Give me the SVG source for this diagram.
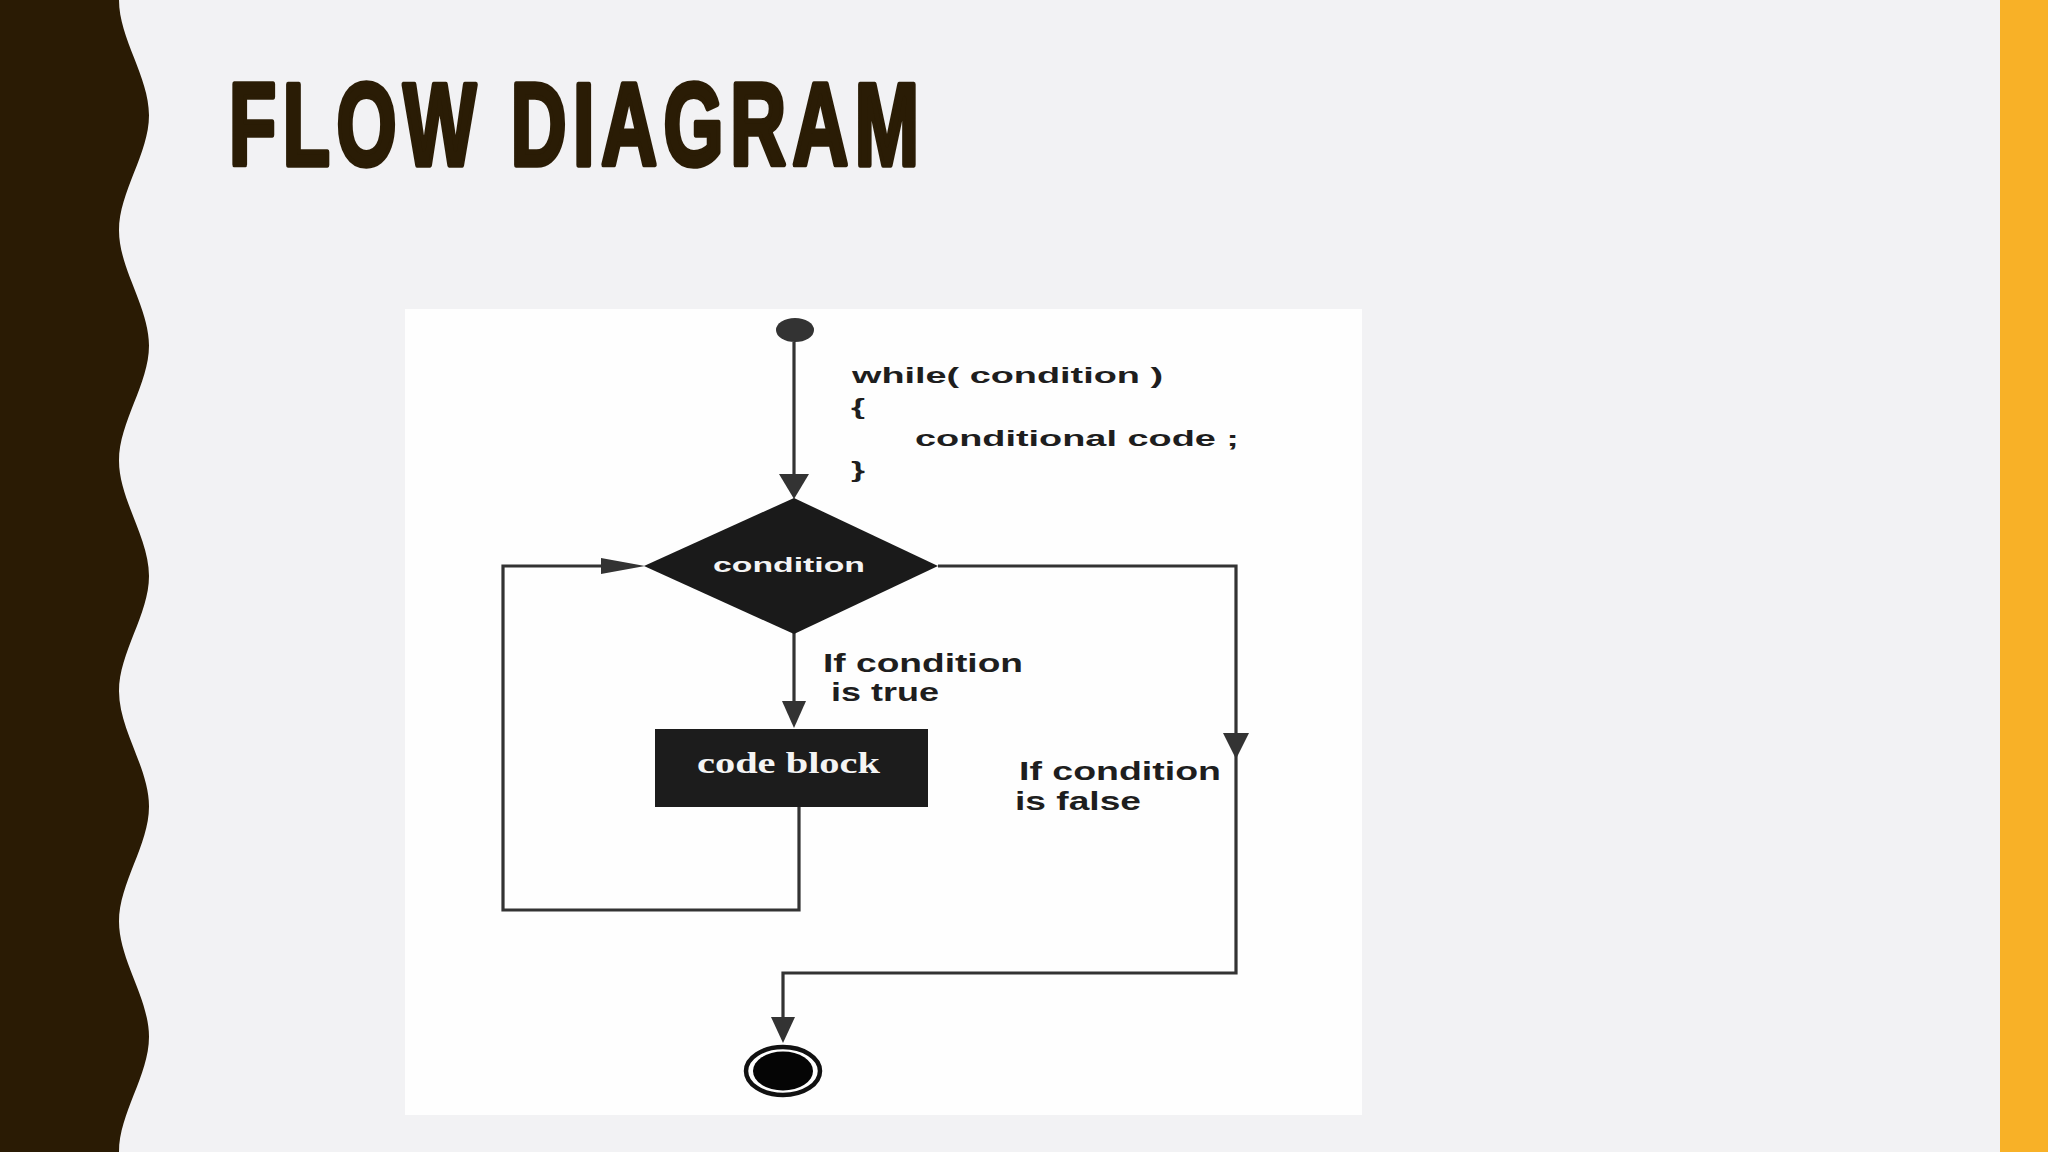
<svg xmlns="http://www.w3.org/2000/svg" width="2048" height="1152" viewBox="0 0 2048 1152">
<style>
.lbl{font-family:"Liberation Sans",Arial,sans-serif;font-weight:bold;fill:#1e1e1e}
.wlbl{font-family:"Liberation Sans",Arial,sans-serif;font-weight:bold;fill:#f4f4f4}
.ser{font-family:"Liberation Serif","Times New Roman",serif;font-weight:bold;fill:#f4f4f4}
.ln{fill:none;stroke:#333;stroke-width:3.2}
.ah{fill:#333}
</style>
<rect x="0" y="0" width="2048" height="1152" fill="#f2f2f4"/>
<path d="M0,0 H119 C119,38.4 149,76.8 149,115.2 C149,153.6 119,192 119,230.4 C119,268.8 149,307.2 149,345.6 C149,384 119,422.4 119,460.8 C119,499.2 149,537.6 149,576 C149,614.4 119,652.8 119,691.2 C119,729.6 149,768 149,806.4 C149,844.8 119,883.2 119,921.6 C119,960 149,998.4 149,1036.8 C149,1075.2 119,1113.6 119,1152 H0 Z" fill="#2a1b04"/>
<rect x="2000" y="0" width="48" height="1152" fill="#f8b127"/>
<text transform="translate(229,0) scale(0.665,1)" x="0" y="165" font-family="'Liberation Sans',Arial,sans-serif" font-weight="bold" font-size="116" letter-spacing="10" fill="#2a1c05" stroke="#2a1c05" stroke-width="5.5" stroke-linejoin="round">FLOW DIAGRAM</text>
<rect x="405" y="309" width="957" height="806" fill="#fefefe"/>

<g id="connectors">
<path class="ln" d="M794,342 V476"/>
<polygon class="ah" points="779,474 809,474 794,499"/>
<path class="ln" d="M794,633 V703"/>
<polygon class="ah" points="782,701 806,701 794,728"/>
<path class="ln" d="M799,807 V910 H503 V566 H606"/>
<polygon class="ah" points="601,558 601,574 645,566"/>
<path class="ln" d="M938,566 H1236 V973 H783 V1020"/>
<polygon class="ah" points="1223,733 1249,733 1236,759"/>
<polygon class="ah" points="771,1017 795,1017 783,1043"/>
</g>

<g id="start">
<ellipse cx="795" cy="330" rx="19" ry="12" fill="#333"/>
</g>

<g id="code-text">
<text class="lbl" x="852" y="383" font-size="22" textLength="311" lengthAdjust="spacingAndGlyphs">while( condition )</text>
<text class="lbl" x="851" y="414" font-size="22" textLength="14" lengthAdjust="spacingAndGlyphs">{</text>
<text class="lbl" x="915" y="446" font-size="22" textLength="324" lengthAdjust="spacingAndGlyphs">conditional code ;</text>
<text class="lbl" x="851" y="477" font-size="22" textLength="14" lengthAdjust="spacingAndGlyphs">}</text>
</g>

<g id="condition">
<polygon points="794,498 938,566 794,634 644,566" fill="#1a1a1a"/>
<text class="wlbl" x="713" y="572" font-size="21" textLength="152" lengthAdjust="spacingAndGlyphs">condition</text>
</g>

<g id="true-label">
<text class="lbl" x="823" y="672" font-size="26" textLength="200" lengthAdjust="spacingAndGlyphs">If condition</text>
<text class="lbl" x="831" y="701" font-size="26" textLength="108" lengthAdjust="spacingAndGlyphs">is true</text>
</g>

<g id="code-block">
<rect x="655" y="729" width="273" height="78" fill="#1c1c1c"/>
<text class="ser" x="697" y="773" font-size="30" textLength="183" lengthAdjust="spacingAndGlyphs">code block</text>
</g>

<g id="false-label">
<text class="lbl" x="1019" y="780" font-size="26" textLength="202" lengthAdjust="spacingAndGlyphs">If condition</text>
<text class="lbl" x="1015" y="810" font-size="26" textLength="126" lengthAdjust="spacingAndGlyphs">is false</text>
</g>

<g id="end">
<ellipse cx="783" cy="1071" rx="37" ry="24" fill="none" stroke="#111" stroke-width="4.5"/>
<ellipse cx="783" cy="1071" rx="30" ry="19.5" fill="#050505"/>
</g>
</svg>
